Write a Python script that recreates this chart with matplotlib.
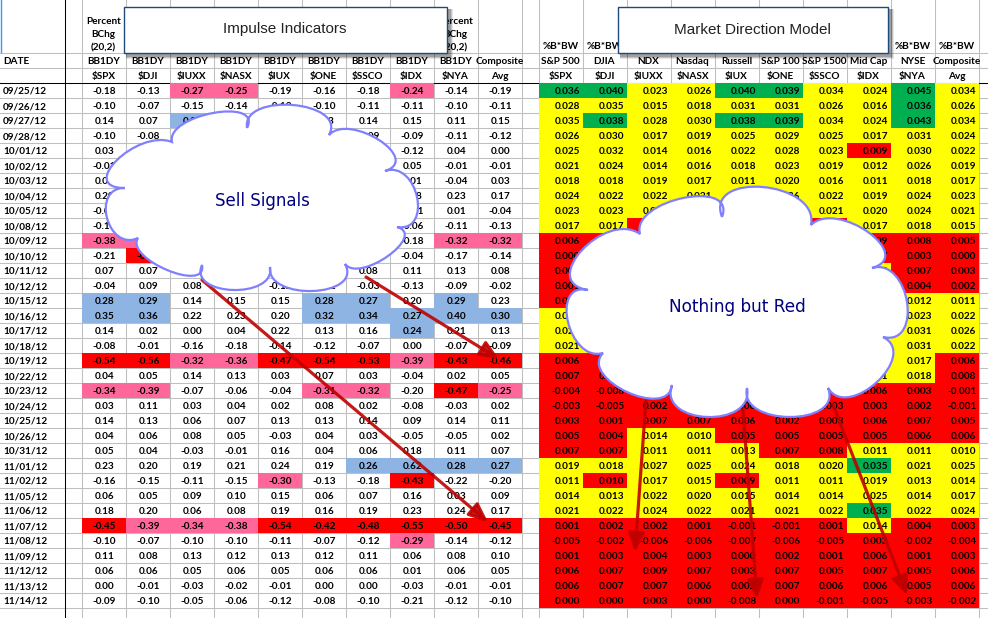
import matplotlib
matplotlib.use('Agg')
import matplotlib.pyplot as plt
from matplotlib.patches import FancyArrowPatch, PathPatch, Rectangle
from matplotlib.path import Path

N = None

dates = ['09/25/12', '09/26/12', '09/27/12', '09/28/12', '10/01/12', '10/02/12', '10/03/12', '10/04/12', '10/05/12',
         '10/08/12', '10/09/12', '10/10/12', '10/11/12', '10/12/12', '10/15/12', '10/16/12', '10/17/12', '10/18/12',
         '10/19/12', '10/22/12', '10/23/12', '10/24/12', '10/25/12', '10/26/12', '10/31/12', '11/01/12', '11/02/12',
         '11/05/12', '11/06/12', '11/07/12', '11/08/12', '11/09/12', '11/12/12', '11/13/12', '11/14/12']

symbols = ['$SPX', '$DJI', '$IUXX', '$NASX', '$IUX', '$ONE', '$SSCO', '$IDX', '$NYA', 'Avg']
impulse_names = ['BB1DY'] * 9 + ['Composite']
model_names = ['S&P 500', 'DJIA', 'NDX', 'Nasdaq', 'Russell', 'S&P 100', 'S&P 1500', 'Mid Cap', 'NYSE', 'Composite']

# None = cell sits behind one of the clouds, can't be read
bb_spx = [-.18, -.10, .14, -.10, .03, -.01, .06, .20, -.06, -.13, -.38, -.21, .07, -.04, .28, .35, .14, -.08, -.54, .04,
          -.34, .03, .14, .04, .05, .23, -.16, .06, .18, -.45, -.10, .11, .06, .00, -.09]
bb_dji = [-.13, -.07, .07, -.08, N, N, N, N, N, N, N, -.41, .07, .09, .29, .36, .02, -.01, -.56, .05,
          -.39, .11, .13, .06, .04, .20, -.15, .05, .20, -.39, -.07, .08, .06, -.01, -.10]
bb_iuxx = [-.27, -.15, .21, N, N, N, N, N, N, N, N, N, .05, .08, .14, .22, .00, -.16, -.32, .14,
           -.07, .03, .06, .08, -.03, .19, -.11, .09, .06, -.34, -.10, .13, .05, -.03, -.05]
bb_nasx = [-.25, -.14, .23, N, N, N, N, N, N, N, N, N, N, N, .15, .23, .04, -.18, -.36, .13,
           -.06, .04, .07, .05, -.01, .21, -.15, .10, .08, -.38, -.10, .12, .06, -.02, -.06]
bb_iux = [-.19, -.13, N, N, N, N, N, N, N, N, N, N, N, -.12, .15, .20, .22, -.14, -.47, .03,
          -.04, .02, .13, -.03, .16, .24, -.30, .15, .19, -.54, -.11, .13, .05, -.01, -.12]
bb_one = [-.16, -.10, .13, N, N, N, N, N, N, N, N, N, N, -.12, .28, .32, .13, -.12, -.54, .07,
          -.31, .08, .13, .04, .04, .19, -.13, .06, .16, -.42, -.07, .12, .06, .00, -.08]
bb_ssco = [-.18, -.11, .14, -.09, N, N, N, N, N, N, N, N, .08, -.03, .27, .34, .16, -.07, -.53, .03,
           -.32, .02, .14, .03, .06, .26, -.18, .07, .19, -.48, -.12, .11, .06, .00, -.10]
bb_idx = [-.24, -.11, .15, -.09, -.12, .05, .01, .18, -.01, -.06, -.18, -.04, .11, -.13, .20, .27, .24, .00, -.39, -.04,
          -.20, -.08, .09, -.05, .18, .62, -.43, .16, .23, -.55, -.29, .06, .01, -.03, -.21]
bb_nya = [-.14, -.10, .11, -.11, .04, -.01, -.04, .23, .01, -.11, -.32, -.17, .13, -.09, .29, .40, .21, -.07, -.43, .02,
          -.47, -.03, .14, -.05, .11, .28, -.22, .03, .24, -.50, -.14, .08, .06, -.01, -.12]
bb_avg = [-.19, -.11, .15, -.12, .00, -.01, .03, .17, -.04, -.13, -.32, -.14, .08, -.02, .23, .30, .13, -.09, -.46, .05,
          -.25, .02, .11, .02, .07, .27, -.20, .09, .17, -.45, -.12, .10, .05, -.01, -.10]

bw_spx = [.036, .028, .035, .026, .025, .021, .018, .024, .023, .017, .006, .000, .002, .001, .011, .018, .020, .021,
          .006, .007, -.004, -.003, .003, .005, .007, .019, .011, .014, .021, .001, -.005, .001, .006, .006, .000]
bw_dji = [.040, .035, .038, .030, .032, .024, .018, .022, .023, .017, N, N, N, N, N, N, N, N,
          .005, .006, -.008, -.005, .001, .004, .007, .018, .010, .013, .022, .002, -.002, .003, .007, .007, .000]
bw_iuxx = [.023, .015, .028, .017, .014, .014, .019, .022, .020, N, N, N, N, N, N, N, N, N,
           N, N, .000, .002, .007, .014, .011, .027, .017, .022, .024, .002, -.006, .004, .009, .007, .003]
bw_nasx = [.026, .018, .030, .019, .016, .016, .017, .021, N, N, N, N, N, N, N, N, N, N,
           N, N, N, N, .007, .010, .011, .025, .015, .020, .022, .001, -.006, .003, .007, .006, .000]
bw_iux = [.040, .031, .038, .025, .022, .018, .011, .020, N, N, N, N, N, N, N, N, N, N,
          N, N, N, .000, .006, .005, .013, .024, .009, .015, .021, -.001, -.007, .000, .003, .002, -.008]
bw_one = [.039, .031, .039, .029, .028, .023, .020, .026, N, N, N, N, N, N, N, N, N, N,
          N, N, N, N, .002, .005, .007, .018, .011, .014, .021, -.001, -.006, .002, .007, .007, .000]
bw_ssco = [.034, .026, .034, .025, .023, .019, .016, .022, .021, N, N, N, N, N, N, N, N, N,
           N, N, .005, .003, .003, .005, .008, .020, .011, .014, .022, .001, -.005, .001, .005, .006, -.001]
bw_idx = [.024, .016, .024, .017, .009, .012, .011, .019, .020, .017, .009, .007, .013, N, N, N, N, N,
          N, .021, .006, .003, .006, .005, .011, .035, .019, .025, .035, .014, .003, .006, .007, .006, -.005]
bw_nya = [.045, .036, .043, .031, .030, .026, .018, .024, .024, .018, .008, .003, .007, .004, .012, .023, .031, .031,
          .017, .018, .003, .002, .007, .006, .011, .021, .013, .014, .022, .004, -.002, .001, .005, .005, -.003]
bw_avg = [.034, .026, .034, .024, .022, .019, .017, .023, .021, .015, .005, .000, .003, .002, .011, .022, .026, .022,
          .006, .008, -.001, -.001, .005, .006, .010, .025, .014, .017, .024, .003, -.004, .003, .006, .006, -.002]

impulse_cols = [bb_spx, bb_dji, bb_iuxx, bb_nasx, bb_iux, bb_one, bb_ssco, bb_idx, bb_nya, bb_avg]
model_cols = [bw_spx, bw_dji, bw_iuxx, bw_nasx, bw_iux, bw_one, bw_ssco, bw_idx, bw_nya, bw_avg]

# conditional format state per row: . none, p weak sell, r strong sell, b buy / y neutral, g bullish
impulse_state = ['..pp...p..', '..........', '..b.......', '..........', '..........', '..........', '..........',
                 '..........', '..........', '..........', 'pp......pp', '.r........', '..........', '..........',
                 'bb...bb.b.', 'bb...bbbbb', '.......b..', '..........', 'rrpprrrprr', '..........', 'pp...pp.rp',
                 '..........', '..........', '..........', '..........', '......bbbb', '....p..r..', '..........',
                 '..........', 'rppprrrrrr', '.......p..', '..........', '..........', '..........', '..........']
model_state = ['ggyyggyygy', 'yyyyyyyygy', 'ygyyggyygy', 'yyyyyyyyyy', 'yyyyyyyryy', 'yyyyyyyyyy', 'yyyyyyyyyy',
               'yyyyyyyyyy', 'yyyyyyyyyy', 'yyrrrrryyy', 'rrrrrrrrrr', 'rrrrrrrrrr', 'rrrrrrryrr', 'rrrrrrrrrr',
               'rrrrrrryyy', 'yyyyyyyyyy', 'yyyyyyyyyy', 'yyyyyyyyyy', 'rrrrrrryyr', 'rrrrrrryyr', 'rrrrrrrrrr',
               'rrrrrrrrrr', 'rrrrrrrrrr', 'rryyrrrrrr', 'rryyyrryyy', 'yyyyyyygyy', 'yryyryyyyy', 'yyyyyyyyyy',
               'yyyyyyygyy', 'rrrrrrryrr', 'rrrrrrrrrr', 'rrrrrrrrrr', 'rrrrrrrrrr', 'rrrrrrrrrr', 'rrrrrrrrrr']

fills = {'p': '#FF6699', 'r': '#FF0000', 'b': '#8DB4E2', 'y': '#FFFF00', 'g': '#00B050'}
GRID = '#BFBFBF'
CELL_FONT = 'Lato'

# sheet geometry in pixels
COL_W, ROW_H = 44, 15
TOP = 82.5
IMPULSE_X, MODEL_X = 81.5, 538.5

fig = plt.figure(figsize=(9.88, 6.18), dpi=100)
ax = fig.add_axes([0, 0, 1, 1])
ax.set_xlim(0, 988)
ax.set_ylim(618, 0)
ax.axis('off')


def cell_text(x, y, s, ha='center', size=7.2, weight='bold', z=3):
    ax.text(x, y + 0.5, s, ha=ha, va='center_baseline', fontsize=size, fontweight=weight, family=CELL_FONT,
            color='black', zorder=z)


# grid lines
rows = len(dates)
for y in [52.5, 67.5] + [TOP + ROW_H * i for i in range(1, rows + 1)]:
    ax.plot([0, 988], [y, y], color=GRID, lw=0.75, zorder=1)
for left in (IMPULSE_X, MODEL_X):
    for i in range(11):
        ax.plot([left + COL_W * i] * 2, [0, 618], color=GRID, lw=0.75, zorder=1)
ax.plot([64.5, 64.5], [0, 618], color='black', lw=0.75, zorder=1.5)
ax.plot([0, 988], [TOP, TOP], color='black', lw=0.75, zorder=1.5)
ax.plot([0.5, 0.5], [0, 52], color='#3399FF', lw=1, zorder=1.5)

# headers
cell_text(3, 60, 'DATE', ha='left')
for r, d in enumerate(dates):
    cell_text(3, TOP + ROW_H * (r + 0.5), d, ha='left')

for i in range(10):
    cx = IMPULSE_X + COL_W * (i + 0.5)
    if i < 9:
        cell_text(cx, 20, 'Percent')
        cell_text(cx, 33, 'BChg')
        cell_text(cx, 46, '(20,2)')
    cell_text(cx, 60, impulse_names[i])
    cell_text(cx, 75, symbols[i])
    mx = MODEL_X + COL_W * (i + 0.5)
    cell_text(mx, 45, '%B*BW')
    cell_text(mx, 60, model_names[i])
    cell_text(mx, 75, symbols[i])

# impulse block, centred values
for c, col in enumerate(impulse_cols):
    for r, (v, flags) in enumerate(zip(col, impulse_state, strict=True)):
        if flags[c] != '.':
            ax.add_patch(Rectangle((IMPULSE_X + COL_W * c, TOP + ROW_H * r), COL_W, ROW_H, fc=fills[flags[c]], lw=0, zorder=2))
        if v is not None:
            cell_text(IMPULSE_X + COL_W * (c + 0.5) + 1, TOP + ROW_H * (r + 0.5), f'{v:.2f}')

# market direction block, right aligned values
for c, col in enumerate(model_cols):
    for r, (v, flags) in enumerate(zip(col, model_state, strict=True)):
        ax.add_patch(Rectangle((MODEL_X + COL_W * c, TOP + ROW_H * r), COL_W, ROW_H, fc=fills[flags[c]], lw=0, zorder=2))
        if v is not None:
            cell_text(MODEL_X + COL_W * (c + 1) - 2, TOP + ROW_H * (r + 0.5), f'{v:.3f}', ha='right')

# arrows drawn on top of the sheet
arrows = [((202, 280), (488, 522)), ((366, 277), (499, 359)), ((646, 400), (635, 552)),
          ((743, 410), (757, 599)), ((833, 405), (907, 595))]
for start, end in arrows:
    ax.add_patch(FancyArrowPatch(start, end, arrowstyle='-|>,head_length=1.15,head_width=0.5', mutation_scale=10,
                                 shrinkA=0, shrinkB=0, lw=2.3, color='#C00000', alpha=0.9, zorder=4))


def cloud(cusps, peaks, text, text_xy, size):
    # one bezier lobe between each pair of cusps, pushed through the peak point
    verts = [cusps[0]]
    codes = [Path.MOVETO]
    n = len(cusps)
    for i in range(n):
        s, e, p = cusps[i], cusps[(i + 1) % n], peaks[i]
        ox = 4 / 3 * (p[0] - (s[0] + e[0]) / 2)
        oy = 4 / 3 * (p[1] - (s[1] + e[1]) / 2)
        wx, wy = 0.15 * (e[0] - s[0]), 0.15 * (e[1] - s[1])
        verts += [(s[0] + ox - wx, s[1] + oy - wy), (e[0] + ox + wx, e[1] + oy + wy), e]
        codes += [Path.CURVE4] * 3
    ax.add_patch(PathPatch(Path(verts, codes), fc='white', ec='#8080FF', lw=1.6, zorder=5))
    ax.text(*text_xy, text, ha='center', va='center', fontsize=size, color='#000080', family='DejaVu Sans', zorder=6)


cloud([(247, 128), (329, 135), (385, 171), (397, 227), (345, 264), (270, 267), (202, 265), (138, 238), (125, 188), (172, 142)],
      [(293, 105), (379, 140), (417, 197), (388, 256), (313, 291), (233, 290), (167, 270), (107, 218), (117, 160), (213, 113)],
      'Sell Signals', (262, 201), 12)
cloud([(722, 217), (811, 225), (872, 268), (883, 337), (828, 388), (747, 388), (672, 385), (603, 353), (588, 290), (640, 234)],
      [(763, 187), (868, 232), (907, 302), (877, 382), (790, 417), (707, 417), (627, 392), (568, 322), (582, 250), (683, 198)],
      'Nothing but Red', (737, 307), 12.2)


def callout(x0, x1, text):
    y0, y1 = 6.5, 52.5
    for grow, a in ((4, 0.10), (3, 0.14), (2, 0.18)):
        ax.add_patch(Rectangle((x0 + 2, y0 + 2), x1 - x0 + grow, y1 - y0 + grow, fc='black', lw=0, alpha=a, zorder=6.5))
    ax.add_patch(Rectangle((x0, y0), x1 - x0, y1 - y0, fc='white', ec='#1F497D', lw=1, zorder=7))
    ax.text((x0 + x1) / 2, 29.5, text, ha='center', va='center', fontsize=11, color='#222222',
            family='Liberation Sans', zorder=8)


callout(123.5, 446.5, 'Impulse Indicators')
callout(617.5, 887.5, 'Market Direction Model')

fig.savefig('out.png', dpi=100)
